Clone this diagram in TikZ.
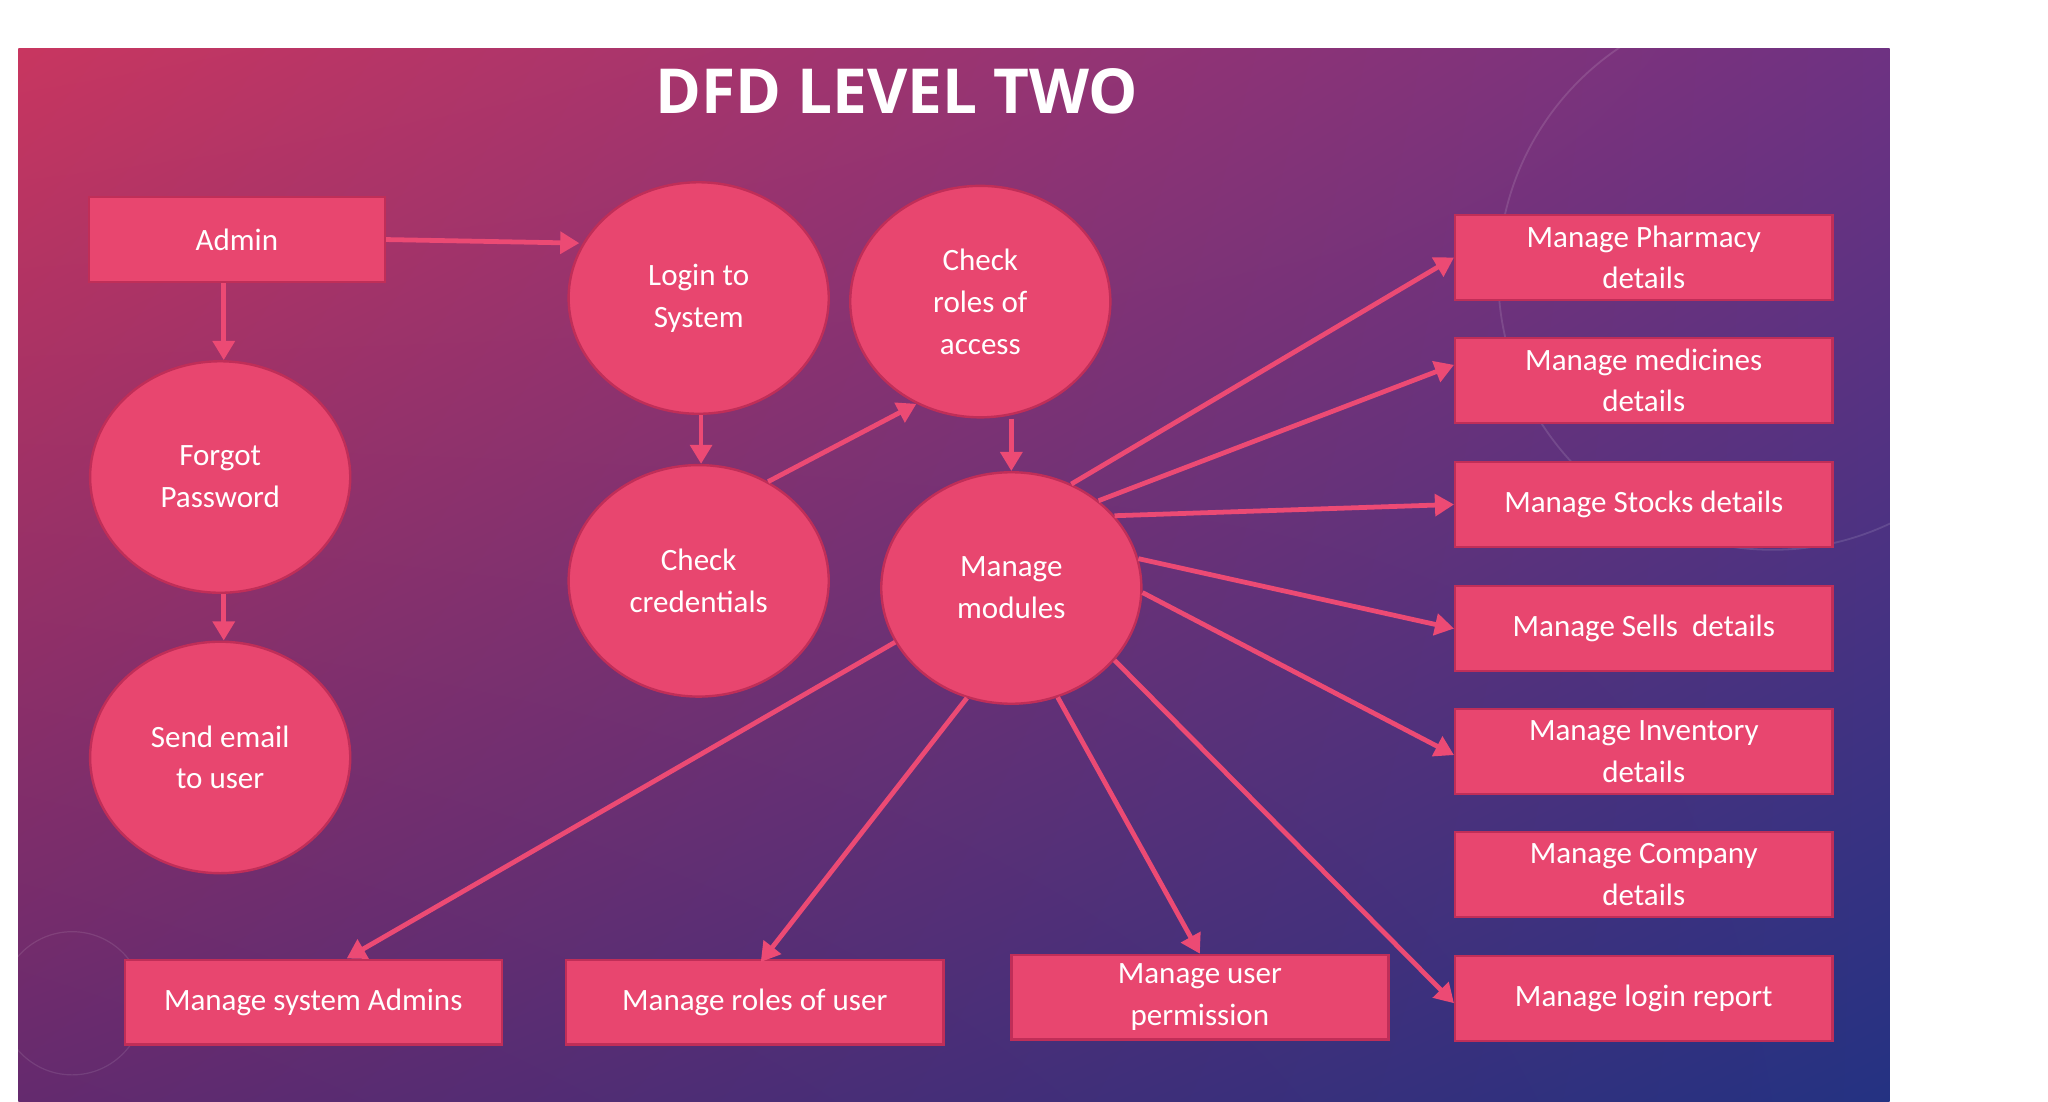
\documentclass[tikz,border=0pt]{standalone}
\usepackage{fontspec}
\setmainfont{Carlito}
\newfontfamily\titlefont{Open Sans}
\usetikzlibrary{arrows.meta,shapes.geometric,shadings}
\definecolor{nodefill}{HTML}{E8466F}
\definecolor{nodeedge}{HTML}{C02E58}
\definecolor{arr}{HTML}{EC4A74}
\definecolor{bgul}{RGB}{200,54,96}
\definecolor{bgur}{RGB}{110,50,130}
\definecolor{bgll}{RGB}{100,42,110}
\definecolor{bglr}{RGB}{36,50,130}
\begin{document}
\begin{tikzpicture}[x=1pt,y=-1pt,
  box/.style={draw=nodeedge,line width=2pt,fill=nodefill,minimum width=316pt,minimum height=71pt,text=white,font=\fontsize{26}{35}\selectfont,align=center,inner sep=2pt},
  ell/.style={ellipse,draw=nodeedge,line width=2pt,fill=nodefill,minimum width=218pt,minimum height=194pt,text=white,font=\fontsize{26}{35}\selectfont,align=center,inner sep=0pt},
  flow/.style={draw=arr,line width=4pt,-{Triangle[length=16pt,width=18pt]}}]
\shade[upper left=bgul,upper right=bgur,lower left=bgll,lower right=bglr] (0,0) rectangle (1568,882);
\draw[white,opacity=0.12,line width=1.5pt] (1470,190) circle (230);
\draw[white,opacity=0.1,line width=1pt] (45,800) circle (60);
\useasboundingbox (0,0) rectangle (1568,882);
\node[text=white,font=\titlefont\bfseries\fontsize{52}{60}\selectfont] (title) at (736,36) {DFD LEVEL TWO};
\node[box,minimum width=248pt] (admin) at (183,160) {Admin};
\node[ell] (forgot) at (169,359) {Forgot\\Password};
\node[ell] (send) at (169,594) {Send email\\to user};
\node[ell] (login) at (570,209) {Login to\\System};
\node[ell] (roles) at (806,212) {Check\\roles of\\access};
\node[ell] (cred) at (570,446) {Check\\credentials};
\node[ell] (mm) at (832,452) {Manage\\modules};
\node[box] (r1) at (1362,175) {Manage Pharmacy\\details};
\node[box] (r2) at (1362,278) {Manage medicines\\details};
\node[box] (r3) at (1362,382) {Manage Stocks details};
\node[box] (r4) at (1362,486) {Manage Sells\ \ details};
\node[box] (r5) at (1362,589) {Manage Inventory\\details};
\node[box] (r6) at (1362,692) {Manage Company\\details};
\node[box] (r7) at (1362,796) {Manage login report};
\node[box] (b1) at (247,799) {Manage system Admins};
\node[box] (b2) at (617,799) {Manage roles of user};
\node[box] (b3) at (990,795) {Manage user\\permission};
\coordinate (lw) at (470,163);
\draw[flow] (admin.east) -- (lw);
\draw[flow] (admin.south -| 172,0) -- (forgot.north -| 172,0);
\draw[flow] (forgot.south -| 172,0) -- (send.north -| 172,0);
\draw[flow] (login.south -| 572,0) -- (cred.north -| 572,0);
\draw[flow] (cred.55) -- (roles.238);
\draw[flow] (roles.south -| 832,0) -- (mm.north);
\draw[flow] (mm.60) -- (r1.west);
\draw[flow] (mm.45) -- ([yshift=13]r2.west);
\draw[flow] (mm.35) -- (r3.west);
\draw[flow] (mm.13) -- (r4.west);
\draw[flow] (mm.-2) -- ([yshift=-3]r5.west);
\draw[flow] (mm.-35) -- ([yshift=-4]r7.west);
\draw[flow] (mm.205) -- ([xshift=28]b1.north);
\draw[flow] (mm.248) -- ([xshift=5,yshift=-3]b2.north);
\draw[flow] (mm.293) -- (b3.north);
\end{tikzpicture}
\end{document}
